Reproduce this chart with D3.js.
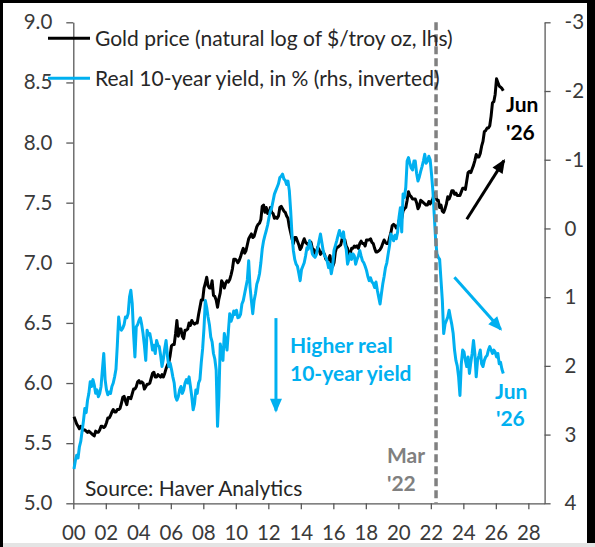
<!DOCTYPE html>
<html><head><meta charset="utf-8">
<script src="https://cdn.jsdelivr.net/npm/d3@7"></script>
<style>body{margin:0;background:#000;} svg{display:block}</style>
</head><body>
<svg id="c" width="595" height="547"></svg>
<script>
// ---- data (monthly, starting Jan 2000) ----
const startYear = 2000;
const gold = [
5.72,5.69,5.66,5.64,5.62,5.64,5.63,5.61,5.61,5.60,5.59,5.60,
5.59,5.58,5.57,5.56,5.60,5.59,5.59,5.61,5.64,5.64,5.63,5.64,
5.67,5.71,5.71,5.73,5.76,5.78,5.76,5.76,5.78,5.78,5.79,5.83,
5.88,5.89,5.85,5.82,5.88,5.88,5.87,5.91,5.95,5.95,5.97,6.01,
6.02,6.00,6.01,6.00,5.95,5.97,5.99,5.99,6.00,6.04,6.08,6.09,
6.05,6.05,6.07,6.06,6.05,6.07,6.05,6.08,6.12,6.15,6.17,6.23,
6.31,6.32,6.32,6.41,6.52,6.39,6.45,6.45,6.39,6.37,6.44,6.44,
6.45,6.50,6.48,6.52,6.50,6.49,6.50,6.50,6.57,6.63,6.69,6.69,
6.79,6.83,6.88,6.81,6.79,6.79,6.85,6.73,6.72,6.69,6.63,6.70,
6.75,6.85,6.83,6.79,6.83,6.85,6.84,6.86,6.90,6.95,7.03,7.03,
7.02,7.00,7.02,7.05,7.09,7.12,7.08,7.10,7.15,7.20,7.22,7.24,
7.21,7.22,7.26,7.30,7.32,7.33,7.36,7.47,7.48,7.42,7.46,7.41,
7.41,7.46,7.42,7.41,7.37,7.38,7.37,7.39,7.46,7.47,7.45,7.43,
7.42,7.39,7.37,7.30,7.25,7.20,7.16,7.21,7.21,7.18,7.15,7.11,
7.13,7.17,7.20,7.17,7.16,7.15,7.18,7.17,7.12,7.11,7.07,7.09,
7.13,7.11,7.07,7.09,7.09,7.07,7.03,7.02,7.03,7.06,6.99,6.97,
7.00,7.09,7.13,7.13,7.14,7.15,7.20,7.20,7.19,7.14,7.12,7.05,
7.08,7.12,7.12,7.14,7.13,7.14,7.12,7.16,7.18,7.16,7.16,7.14,
7.19,7.19,7.19,7.20,7.17,7.16,7.12,7.09,7.09,7.10,7.11,7.13,
7.16,7.19,7.17,7.16,7.16,7.21,7.25,7.31,7.32,7.31,7.29,7.30,
7.35,7.38,7.37,7.43,7.45,7.46,7.52,7.59,7.56,7.55,7.53,7.53,
7.53,7.50,7.45,7.47,7.52,7.51,7.50,7.49,7.48,7.48,7.51,7.49,
7.51,7.53,7.58,7.57,7.52,7.52,7.46,7.48,7.43,7.42,7.45,7.49,
7.55,7.53,7.56,7.60,7.60,7.57,7.58,7.56,7.56,7.56,7.59,7.62,
7.62,7.61,7.68,7.75,7.76,7.75,7.78,7.81,7.85,7.90,7.88,7.88,
7.91,7.97,8.01,8.09,8.10,8.12,8.12,8.14,8.22,8.33,8.34,8.40,
8.53,8.50,8.47,8.46,8.45,8.43
];
const realYield = [
3.50,3.38,3.30,3.34,3.18,3.10,2.95,2.80,2.62,2.68,2.50,2.40,
2.23,2.30,2.20,2.28,2.40,2.35,2.45,2.40,2.30,2.05,1.82,2.20,
2.35,2.42,2.38,2.40,2.30,2.25,2.16,2.05,1.70,1.29,1.45,1.48,
1.45,1.40,1.29,1.30,1.24,1.00,0.90,1.09,1.53,1.87,1.43,1.40,
1.34,1.30,1.40,1.53,1.70,1.92,1.48,1.55,1.53,1.63,1.77,1.70,
1.82,1.63,1.70,1.72,1.85,2.01,1.90,1.75,1.63,1.85,2.01,1.96,
2.05,2.16,2.25,2.45,2.50,2.45,2.35,2.30,2.40,2.35,2.25,2.20,
2.25,2.16,2.30,2.45,2.64,2.55,2.35,2.40,2.25,2.20,1.95,1.75,
1.45,1.05,1.15,1.29,1.40,1.58,1.65,1.82,1.90,2.06,2.88,2.45,
1.68,1.80,1.92,1.53,1.63,1.77,1.50,1.24,1.35,1.29,1.20,1.25,
1.19,1.30,1.29,1.25,1.10,1.05,0.95,0.85,0.75,0.47,0.85,1.05,
1.24,1.05,0.95,0.81,0.75,0.66,0.50,0.30,0.18,0.10,0.03,-0.05,
-0.16,-0.25,-0.30,-0.40,-0.50,-0.55,-0.60,-0.65,-0.74,-0.76,-0.79,-0.72,
-0.70,-0.64,-0.69,-0.55,-0.26,0.10,0.32,0.45,0.52,0.55,0.65,0.76,
0.60,0.55,0.50,0.40,0.28,0.30,0.18,0.25,0.37,0.40,0.42,0.38,
0.28,0.18,0.08,0.20,0.32,0.40,0.42,0.48,0.57,0.52,0.66,0.55,
0.32,0.25,0.18,0.10,0.03,0.10,0.13,0.05,0.23,0.30,0.52,0.45,
0.37,0.45,0.37,0.40,0.52,0.45,0.40,0.32,0.40,0.47,0.50,0.55,
0.61,0.70,0.76,0.72,0.78,0.80,0.86,0.78,0.90,1.00,1.10,0.95,
0.81,0.70,0.57,0.50,0.37,0.25,0.08,0.12,0.18,0.10,0.15,0.05,
-0.16,-0.30,0.05,-0.50,-0.45,-0.60,-0.98,-1.03,-0.95,-0.88,-0.85,-0.98,
-0.98,-0.80,-0.69,-0.75,-0.83,-0.90,-0.98,-1.08,-0.95,-0.98,-1.05,-1.00,
-0.79,-0.55,-0.20,0.15,0.37,0.42,0.45,0.75,1.05,1.53,1.39,1.34,
1.29,1.19,1.30,1.40,1.53,1.77,1.92,2.00,2.16,2.43,1.97,1.77,
1.80,1.92,2.01,1.87,2.11,1.95,1.82,1.63,1.82,2.16,1.92,1.85,
1.77,1.97,2.01,1.92,1.87,1.85,1.77,1.72,1.77,1.82,1.77,1.80,
1.87,1.82,1.97,1.95,2.05,2.11
];
const xTicks = [2000,2002,2004,2006,2008,2010,2012,2014,2016,2018,2020,2022,2024,2026,2028];
const xTickLabels = ["00","02","04","06","08","10","12","14","16","18","20","22","24","26","28"];
const leftTicks = [5.0,5.5,6.0,6.5,7.0,7.5,8.0,8.5,9.0];
const leftTickLabels = ["5.0","5.5","6.0","6.5","7.0","7.5","8.0","8.5","9.0"];
const rightTicks = [-3,-2,-1,0,1,2,3,4];
const rightTickLabels = ["-3","-2","-1","0","1","2","3","4"];
const seriesNames = ["Gold price (natural log of $/troy oz, lhs)", "Real 10-year yield, in % (rhs, inverted)"];
const marchLine = 2022.32;

// ---- drawing ----
const FONT = "Lato, 'Open Sans', sans-serif";
const FS = 21;
const svg = d3.select("#c");
svg.append("rect").attr("x",0).attr("y",0).attr("width",595).attr("height",547).attr("fill","#000");
svg.append("rect").attr("x",3).attr("y",3).attr("width",584).attr("height",540).attr("fill","#fff");
svg.append("rect").attr("x",3).attr("y",543).attr("width",592).attr("height",4).attr("fill","#e4e4e4");

const x = d3.scaleLinear().domain([2000, 2029]).range([73.3, 544.6]);
const yL = d3.scaleLinear().domain([5, 9]).range([503.3, 22.3]);
const yR = d3.scaleLinear().domain([-3, 4]).range([22.3, 503.3]);
const dateOf = i => startYear + (i + 0.5) / 12;

function styleAxis(g, fs){
  g.selectAll(".domain").attr("stroke","#595959").attr("stroke-width",1.3);
  g.selectAll(".tick line").attr("stroke","#595959").attr("stroke-width",1.3);
  g.selectAll("text").attr("fill","#3a3a3a").style("font-family",FONT).style("font-size",fs+"px");
}

const gL = svg.append("g").attr("transform","translate(73.3,0)")
  .call(d3.axisLeft(yL).tickValues(leftTicks).tickFormat((d,i)=>leftTickLabels[i]).tickSize(7).tickPadding(14).tickSizeOuter(0));
styleAxis(gL, 20.5);
const gR = svg.append("g").attr("transform","translate(544.6,0)")
  .call(d3.axisRight(yR).tickValues(rightTicks).tickFormat((d,i)=>rightTickLabels[i]).tickSize(6).tickPadding(14).tickSizeOuter(0));
styleAxis(gR, 20.5);
const gB = svg.append("g").attr("transform","translate(0,503.3)")
  .call(d3.axisBottom(x).tickValues(xTicks).tickFormat((d,i)=>xTickLabels[i]).tickSize(6).tickPadding(16).tickSizeOuter(0));
styleAxis(gB, 20.5);

// series
const goldLine = d3.line().x((d,i)=>x(dateOf(i))).y(d=>yL(d));
const yieldLine = d3.line().x((d,i)=>x(dateOf(i))).y(d=>yR(d));
svg.append("path").datum(gold).attr("d",goldLine).attr("fill","none")
  .attr("stroke","#000").attr("stroke-width",3).attr("stroke-linejoin","round");
svg.append("path").datum(realYield).attr("d",yieldLine).attr("fill","none")
  .attr("stroke","#00b0f0").attr("stroke-width",3).attr("stroke-linejoin","round");

// dashed Mar '22 line
svg.append("line").attr("x1",x(marchLine)).attr("x2",x(marchLine)).attr("y1",yL(9)).attr("y2",yL(5))
  .attr("stroke","#808080").attr("stroke-width",3.5).attr("stroke-dasharray","8,4");

// legend
const legend = [{c:"#000",y:38.3},{c:"#00b0f0",y:78.3}];
legend.forEach((L,i)=>{
  svg.append("line").attr("x1",48).attr("x2",90).attr("y1",L.y).attr("y2",L.y).attr("stroke",L.c).attr("stroke-width",3);
  svg.append("text").attr("x",95).attr("y",L.y+7.5).text(seriesNames[i])
    .attr("fill","#262626").style("font-family",FONT).style("font-size",FS+"px");
});

// arrows
function arrow(x1,y1,x2,y2,color,w,hl,hw){
  svg.append("line").attr("x1",x1).attr("y1",y1).attr("x2",x2).attr("y2",y2)
    .attr("stroke",color).attr("stroke-width",w);
  const dx=x2-x1, dy=y2-y1, L=Math.hypot(dx,dy), ux=dx/L, uy=dy/L;
  const bx=x2-ux*hl, by=y2-uy*hl;
  svg.append("path").attr("d",`M${x2+ux*2},${y2+uy*2}L${bx-uy*hw},${by+ux*hw}L${bx+uy*hw},${by-ux*hw}Z`).attr("fill",color);
}
arrow(x(2024.21), yL(7.362), x(2026.5), yL(7.85), "#000", 3, 12, 6);
arrow(x(2023.45), yL(6.88), x(2026.30), yL(6.447), "#00b0f0", 3, 12, 6);
arrow(x(2012.47), yL(6.54), x(2012.47), yL(5.77), "#00b0f0", 3, 12, 6);

function label(t,xx,yy,color,bold,anchor){
  svg.append("text").attr("x",xx).attr("y",yy).text(t).attr("fill",color)
    .attr("text-anchor",anchor||"start")
    .style("font-family",FONT).style("font-size",FS+"px").style("font-weight",bold?"bold":"normal");
}
label("Jun",506,112,"#000",true);
label("'26",506,140,"#000",true);
label("Jun",495,399,"#00b0f0",true);
label("'26",496,426,"#00b0f0",true);
label("Mar",387,463,"#808080",true);
label("'22",387,491,"#808080",true);
label("Higher real",290,353,"#00b0f0",true);
label("10-year yield",290,381,"#00b0f0",true);
label("Source: Haver Analytics",85,496,"#262626",false);
</script>
</body></html>
